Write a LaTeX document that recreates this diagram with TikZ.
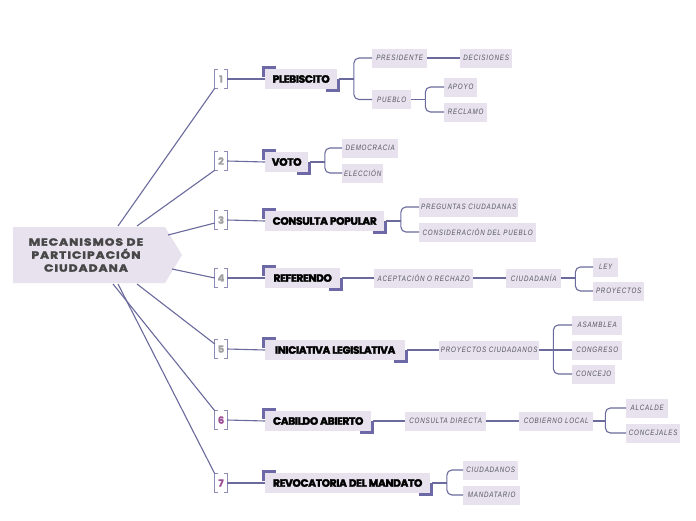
\documentclass[tikz,border=0pt]{standalone}
\usepackage{fontspec}
\setmainfont{Liberation Sans}
\newfontfamily\hubfnt[FakeStretch=1.2,LetterSpace=10,BoldFeatures={FakeBold=3}]{Poppins}
\newfontfamily\mainfnt[LetterSpace=-3,BoldFeatures={FakeBold=3}]{Poppins}
\newfontfamily\numfnt[BoldFeatures={FakeBold=1.5}]{Poppins}
\newfontfamily\childfnt[FakeStretch=0.8,LetterSpace=10]{Liberation Sans}
\usetikzlibrary{calc}
\definecolor{boxc}{HTML}{E7E2EE}
\definecolor{connc}{HTML}{6A6A9C}
\definecolor{cornc}{HTML}{6C69A6}
\definecolor{brkc}{HTML}{8C8CB6}
\definecolor{numgray}{HTML}{A0A0A0}
\definecolor{numpurple}{HTML}{9C4F96}
\definecolor{hubc}{HTML}{474747}
\definecolor{childc}{HTML}{555560}
\newcommand\mkbrk[1]{%
  \draw[brkline] ([shift={(3,0)}]#1.north west) -- (#1.north west) -- (#1.south west) -- ([shift={(3,0)}]#1.south west);
  \draw[brkline] ([shift={(-3,0)}]#1.north east) -- (#1.north east) -- (#1.south east) -- ([shift={(-3,0)}]#1.south east);}
\newcommand\mkcorner[1]{%
  \draw[cornerline] ([shift={(-1.5,8)}]#1.north west) |- ([shift={(11,-1.5)}]#1.north west);
  \draw[cornerline] ([shift={(1.5,0)}]#1.east) |- ([shift={(-11,1.5)}]#1.south east);}
\begin{document}
\begin{tikzpicture}[x=1pt,y=-1pt,
  conn/.style={draw=connc,line width=1.1pt},
  brkline/.style={draw=brkc,line width=1.2pt},
  cornerline/.style={draw=cornc,line width=3pt},
  hubtext/.style={align=center,inner sep=0,text=hubc,font=\hubfnt\bfseries\fontsize{10.2}{13}\selectfont},
  brk/.style={minimum width=12,minimum height=18,inner sep=0,font=\numfnt\bfseries\fontsize{10}{10}\selectfont,text=numgray},
  brkp/.style={brk,text=numpurple},
  mainbox/.style={fill=boxc,anchor=west,minimum height=20,inner sep=0,font=\mainfnt\bfseries\fontsize{10.6}{10.6}\selectfont,text=black},
  childbox/.style={fill=boxc,anchor=west,minimum height=19,inner sep=0,font=\childfnt\itshape\fontsize{7.8}{7.8}\selectfont,text=childc}
]
\useasboundingbox (0,0) rectangle (696,520);
\fill[white] (0,0) rectangle (696,520);
% hub
\fill[boxc] (13,227) -- (165,227) -- (182,255) -- (165,283) -- (13,283) -- cycle;
\node[hubtext] (hub) at (86,255) {MECANISMOS DE\\PARTICIPACIÓN\\CIUDADANA};
\coordinate (s1) at (118,226);
\coordinate (s2) at (137,226);
\coordinate (s3) at (168,235);
\coordinate (s4) at (172,269);
\coordinate (s5) at (137,284);
\coordinate (s6) at (113,284);
\coordinate (s7) at (118,284);
% brackets
\node[brk] (b1) at (221,79) {1};
\node[brk] (b2) at (221,161) {2};
\node[brk] (b3) at (221,220) {3};
\node[brk] (b4) at (221,278) {4};
\node[brk] (b5) at (221,349) {5};
\node[brkp] (b6) at (221,420) {6};
\node[brkp] (b7) at (221,483) {7};
\mkbrk{b1}\mkbrk{b2}\mkbrk{b3}\mkbrk{b4}\mkbrk{b5}\mkbrk{b6}\mkbrk{b7}
% hub to brackets
\draw[conn] (s1) -- (b1.south west);
\draw[conn] (s2) -- (b2.south west);
\draw[conn] (s3) -- ([shift={(0,3)}]b3.west);
\draw[conn] (s4) -- (b4.west);
\draw[conn] (s5) -- ([shift={(0,-5)}]b5.west);
\draw[conn] (s6) -- (b6.north west);
\draw[conn] (s7) -- (b7.north west);
% main nodes
\node[mainbox,minimum width=72] (m1) at (265,79) {PLEBISCITO};
\node[mainbox,minimum width=43] (m2) at (265,162) {VOTO};
\node[mainbox,minimum width=119] (m3) at (265,221) {CONSULTA POPULAR};
\node[mainbox,minimum width=75] (m4) at (265,278) {REFERENDO};
\node[mainbox,minimum width=140] (m5) at (265,350) {INICIATIVA LEGISLATIVA};
\node[mainbox,minimum width=106] (m6) at (265,421) {CABILDO ABIERTO};
\node[mainbox,minimum width=165] (m7) at (265,483) {REVOCATORIA DEL MANDATO};
\foreach \i in {1,...,7} {\draw[conn] (b\i.east) -- (m\i.west);}
% children
\node[childbox,minimum width=55] (p1) at (372,58) {PRESIDENTE};
\node[childbox,minimum width=52] (p2) at (460,58) {DECISIONES};
\node[childbox,minimum width=39] (p3) at (372,99.5) {PUEBLO};
\node[childbox,minimum width=33] (p4) at (444,87) {APOYO};
\node[childbox,minimum width=43] (p5) at (444,112) {RECLAMO};
\node[childbox,minimum width=56] (v1) at (342,148) {DEMOCRACIA};
\node[childbox,minimum width=41] (v2) at (342,173) {ELECCIÓN};
\node[childbox,minimum width=99] (c1) at (419,207) {PREGUNTAS CIUDADANAS};
\node[childbox,minimum width=117] (c2) at (419,232) {CONSIDERACIÓN DEL PUEBLO};
\node[childbox,minimum width=99] (r1) at (374,278) {ACEPTACIÓN O RECHAZO};
\node[childbox,minimum width=55] (r2) at (506,278) {CIUDADANÍA};
\node[childbox,minimum width=25] (r3) at (593,267) {LEY};
\node[childbox,minimum width=51] (r4) at (593,291) {PROYECTOS};
\node[childbox,minimum width=100] (i1) at (439,350) {PROYECTOS CIUDADANOS};
\node[childbox,minimum width=50] (i2) at (572,325) {ASAMBLEA};
\node[childbox,minimum width=50] (i3) at (572,350) {CONGRESO};
\node[childbox,minimum width=43] (i4) at (572,374) {CONCEJO};
\node[childbox,minimum width=81] (a1) at (405,421) {CONSULTA DIRECTA};
\node[childbox,minimum width=74] (a2) at (519,421) {COBIERNO LOCAL};
\node[childbox,minimum width=42] (a3) at (626,408) {ALCALDE};
\node[childbox,minimum width=54] (a4) at (626,433) {CONCEJALES};
\node[childbox,minimum width=55] (e1) at (463,470) {CIUDADANOS};
\node[childbox,minimum width=57] (e2) at (463,495) {MANDATARIO};
% junctions
\coordinate (j1) at ([shift={(16.5,0)}]m1.east);
\coordinate (j2) at ([shift={(16.5,0)}]m2.east);
\coordinate (j3) at ([shift={(16.5,0)}]m3.east);
\coordinate (j7) at ([shift={(16.5,0)}]m7.east);
\coordinate (jp) at ([shift={(14,0)}]p3.east);
\coordinate (jr) at ([shift={(14,0)}]r2.east);
\coordinate (ji) at ([shift={(14,0)}]i1.east);
\coordinate (ja) at ([shift={(12,0)}]a2.east);
% connectors
\draw[conn] ([shift={(1.5,0)}]m1.east) -- (j1);
\draw[conn,rounded corners=5] (j1) |- (p1.west);
\draw[conn,rounded corners=5] (j1) |- (p3.west);
\draw[conn] (p1.east) -- (p2.west);
\draw[conn] (p3.east) -- (jp);
\draw[conn,rounded corners=5] (jp) |- (p4.west);
\draw[conn,rounded corners=5] (jp) |- (p5.west);
\draw[conn] ([shift={(1.5,0)}]m2.east) -- (j2);
\draw[conn,rounded corners=5] (j2) |- (v1.west);
\draw[conn,rounded corners=5] (j2) |- (v2.west);
\draw[conn] ([shift={(1.5,0)}]m3.east) -- (j3);
\draw[conn,rounded corners=5] (j3) |- (c1.west);
\draw[conn,rounded corners=5] (j3) |- (c2.west);
\draw[conn] ([shift={(1.5,0)}]m4.east) -- (r1.west);
\draw[conn] (r1.east) -- (r2.west);
\draw[conn] (r2.east) -- (jr);
\draw[conn,rounded corners=5] (jr) |- (r3.west);
\draw[conn,rounded corners=5] (jr) |- (r4.west);
\draw[conn] ([shift={(1.5,0)}]m5.east) -- (i1.west);
\draw[conn] (i1.east) -- (ji);
\draw[conn,rounded corners=5] (ji) |- (i2.west);
\draw[conn] (ji) -- (i3.west);
\draw[conn,rounded corners=5] (ji) |- (i4.west);
\draw[conn] ([shift={(1.5,0)}]m6.east) -- (a1.west);
\draw[conn] (a1.east) -- (a2.west);
\draw[conn] (a2.east) -- (ja);
\draw[conn,rounded corners=5] (ja) |- (a3.west);
\draw[conn,rounded corners=5] (ja) |- (a4.west);
\draw[conn] ([shift={(1.5,0)}]m7.east) -- (j7);
\draw[conn,rounded corners=5] (j7) |- (e1.west);
\draw[conn,rounded corners=5] (j7) |- (e2.west);
% corners
\mkcorner{m1}\mkcorner{m2}\mkcorner{m3}\mkcorner{m4}\mkcorner{m5}\mkcorner{m6}\mkcorner{m7}
\end{tikzpicture}
\end{document}
